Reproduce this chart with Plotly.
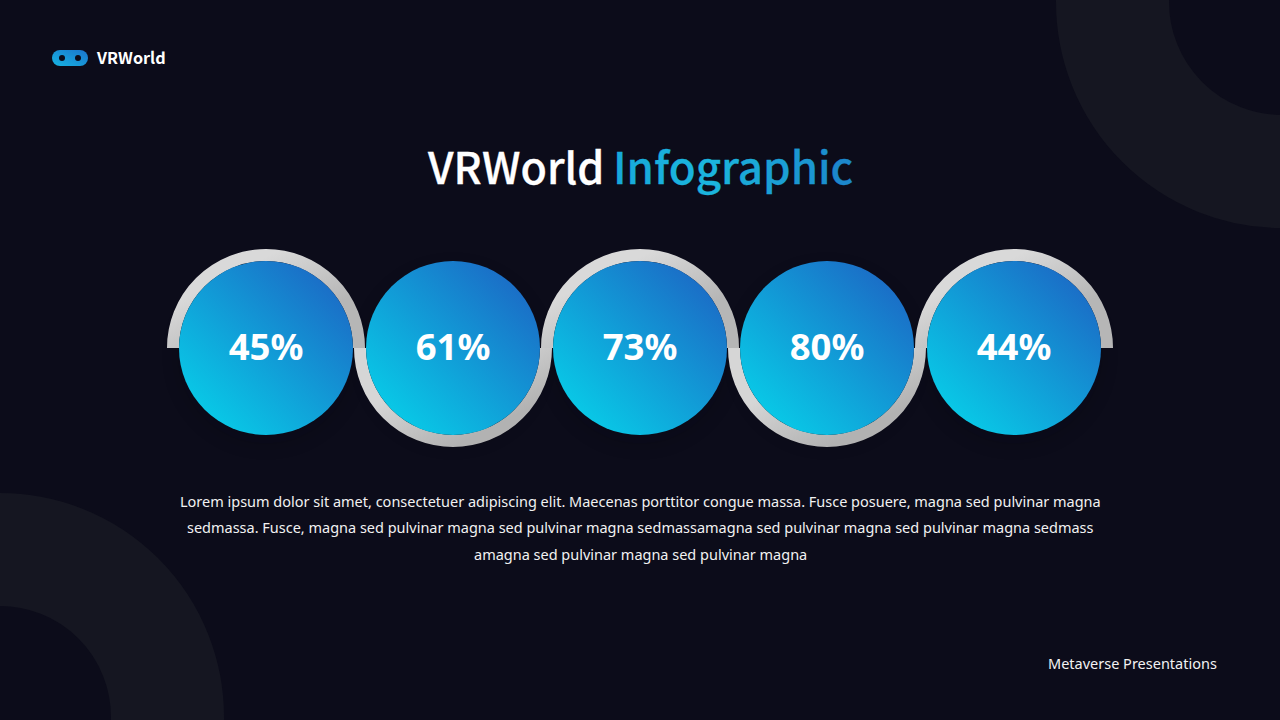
"""
VRWorld infographic slide
"""
import base64
import plotly.graph_objects as go

# chart values
percent_values = [45, 61, 73, 80, 44]
percent_labels = [str(v) + '%' for v in percent_values]
title_white = 'VRWorld'
title_blue = 'Infographic'
body_lines = [
    'Lorem ipsum dolor sit amet, consectetuer adipiscing elit. Maecenas porttitor congue massa. Fusce posuere, magna sed pulvinar magna',
    'sedmassa. Fusce, magna sed pulvinar magna sed pulvinar magna sedmassamagna sed pulvinar magna sed pulvinar magna sedmass',
    'amagna sed pulvinar magna sed pulvinar magna',
]
footer_text = 'Metaverse Presentations'
logo_text = 'VRWorld'

BG = '#0c0c1a'
ARC = '#151621'
FONT = 'Noto Sans CJK SC'
TITLE_FONT = 'Noto Sans CJK SC Medium, Noto Sans CJK SC'
BODY_FONT = 'Noto Sans'
CENTER_Y = 348
FIRST_X = 266
STEP = 187
RADIUS = 87
RING_W = 12

centers = [FIRST_X + i * STEP for i in range(len(percent_values))]


def svg_uri(svg):
    return 'data:image/svg+xml;base64,' + base64.b64encode(svg.encode()).decode()


def place(svg, cx, size):
    mid = size / 2
    return dict(source=svg_uri(svg), xref='x', yref='y', x=cx - mid, y=CENTER_Y - mid,
                sizex=size, sizey=size, xanchor='left', yanchor='top',
                sizing='stretch', layer='below')


def shadow_image(cx):
    """Faint drop shadow, kept apart so that it stays under the silver ring"""
    size = 2 * (RADIUS + 30)
    mid = size / 2
    svg = f'''<svg xmlns="http://www.w3.org/2000/svg" width="{size}" height="{size}" viewBox="0 0 {size} {size}">
<defs><filter id="s" x="-30%" y="-30%" width="160%" height="160%"><feGaussianBlur stdDeviation="9"/></filter></defs>
<circle cx="{mid}" cy="{mid + 8}" r="{RADIUS}" fill="#05060e" opacity="0.2" filter="url(#s)"/>
</svg>'''
    return place(svg, cx, size)


def disc_image(cx):
    size = 2 * RADIUS
    mid = size / 2
    svg = f'''<svg xmlns="http://www.w3.org/2000/svg" width="{size}" height="{size}" viewBox="0 0 {size} {size}">
<defs><linearGradient id="g" x1="0.1" y1="0.95" x2="0.88" y2="0.12">
<stop offset="0" stop-color="#07d0e9"/><stop offset="1" stop-color="#1b6cc6"/>
</linearGradient></defs>
<circle cx="{mid}" cy="{mid}" r="{RADIUS}" fill="url(#g)"/>
</svg>'''
    return place(svg, cx, size)


def ring_image(cx, upper):
    """Half ring, over the top of a disc or under it, with a silver gradient"""
    r = RADIUS + RING_W / 2
    size = 2 * (RADIUS + RING_W) + 2
    mid = size / 2
    sweep = 1 if upper else 0
    start, end = ('#d9d9d9', '#b6b6b6') if upper else ('#d6d6d6', '#b2b2b2')
    svg = f'''<svg xmlns="http://www.w3.org/2000/svg" width="{size}" height="{size}" viewBox="0 0 {size} {size}">
<defs><linearGradient id="r" x1="0.1" y1="0.1" x2="0.9" y2="0.9">
<stop offset="{0.2 if upper else 0.3}" stop-color="{start}"/><stop offset="{0.75 if upper else 0.85}" stop-color="{end}"/>
</linearGradient></defs>
<path d="M {mid - r} {mid} A {r} {r} 0 0 {sweep} {mid + r} {mid}" fill="none" stroke="url(#r)" stroke-width="{RING_W}"/>
</svg>'''
    return place(svg, cx, size)


def logo_image():
    svg = f'''<svg xmlns="http://www.w3.org/2000/svg" width="36" height="16" viewBox="0 0 36 16">
<defs><linearGradient id="l" x1="0" y1="1" x2="1" y2="0">
<stop offset="0" stop-color="#16b4e2"/><stop offset="1" stop-color="#1b74cc"/>
</linearGradient></defs>
<rect width="36" height="16" rx="8" fill="url(#l)"/>
<circle cx="10" cy="8" r="3" fill="{BG}"/><circle cx="26" cy="8" r="3" fill="{BG}"/>
</svg>'''
    return dict(source=svg_uri(svg), xref='x', yref='y', x=52, y=50, sizex=36, sizey=16,
                xanchor='left', yanchor='top', sizing='stretch', layer='below')


def blue_title():
    """Letter by letter colours stand in for the text gradient"""
    colors = ['#17a9d9', '#18acdb', '#19afdc', '#1ab2dd', '#1bb4dd', '#1bb0da',
              '#1ba8d7', '#1b9fd4', '#1b97d1', '#1b8fce', '#1c87cb']
    return ''.join(f'<span style="color:{c}">{ch}</span>' for ch, c in zip(title_blue, colors))


def arc_band(cx, cy, inner, outer):
    mid_r = (inner + outer) / 2
    return dict(type='circle', xref='x', yref='y', x0=cx - mid_r, x1=cx + mid_r,
                y0=cy - mid_r, y1=cy + mid_r, fillcolor='rgba(0,0,0,0)',
                line=dict(color=ARC, width=outer - inner), layer='below')


fig = go.Figure()

fig.add_trace(go.Scatter(
    x=centers,
    y=[CENTER_Y + 3] * len(centers),
    mode='text',
    text=percent_labels,
    textposition='middle center',
    textfont=dict(family=BODY_FONT, size=36.5, color='white', weight=700),
    hoverinfo='skip',
    showlegend=False,
))

images = [logo_image()]
images += [shadow_image(cx) for cx in centers]
images += [ring_image(cx, i % 2 == 0) for i, cx in enumerate(centers)]
images += [disc_image(cx) for cx in centers]

annotations = [
    dict(x=94, y=56.5, text='<b>' + logo_text + '</b>', xanchor='left',
         font=dict(family=FONT, size=16.2, color='white')),
    dict(x=425, y=165, text=title_white, xanchor='left',
         font=dict(family=TITLE_FONT, size=43, color='white')),
    dict(x=611, y=165, text=blue_title(), xanchor='left',
         font=dict(family=TITLE_FONT, size=43.9, color='#1b9fd4')),
    dict(x=1219, y=663, text=footer_text, xanchor='right',
         font=dict(family=BODY_FONT, size=14.5, color='#f2f2f2')),
]
for line, ypos in zip(body_lines, [501, 527, 554]):
    annotations.append(dict(x=640, y=ypos, text=line, xanchor='center',
                            font=dict(family=BODY_FONT, size=14.49, color='#f2f2f2')))
for a in annotations:
    a.update(xref='x', yref='y', yanchor='middle', showarrow=False)

fig.update_layout(
    width=1280,
    height=720,
    margin=dict(l=0, r=0, t=0, b=0),
    paper_bgcolor=BG,
    plot_bgcolor=BG,
    showlegend=False,
    images=images,
    annotations=annotations,
    shapes=[arc_band(1282, 2, 113, 226), arc_band(0, 717, 111, 224)],
    xaxis=dict(range=[0, 1280], visible=False, fixedrange=True),
    yaxis=dict(range=[720, 0], visible=False, fixedrange=True),
)

# body margin would push the slide off the window; a thin stroke gives the title its weight
post_js = """
document.body.style.margin = '0';
document.body.style.background = '%s';
function thickenTitle() {
    document.querySelectorAll('.annotation[data-index="1"] text, .annotation[data-index="2"] text').forEach(function(t) {
        t.style.stroke = t.style.fill;
        t.style.strokeWidth = '0.3px';
        t.querySelectorAll('tspan').forEach(function(s) {
            if (s.style.fill) { s.style.stroke = s.style.fill; }
        });
    });
}
thickenTitle();
setTimeout(thickenTitle, 150);
""" % BG

fig.write_html('out.html', config={'displayModeBar': False}, post_script=post_js)
